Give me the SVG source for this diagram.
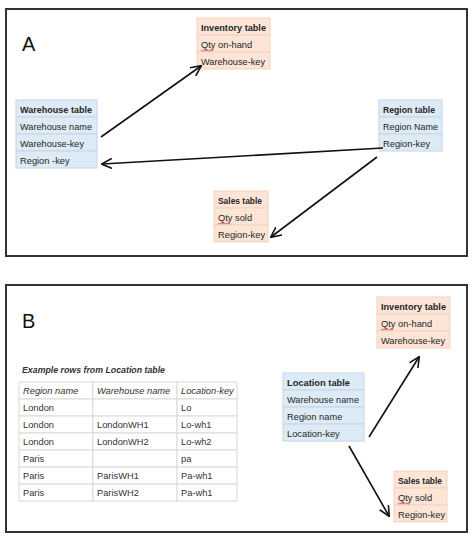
<svg xmlns="http://www.w3.org/2000/svg" width="474" height="537" viewBox="0 0 474 537">
<style>
.panel{fill:#fff;stroke:#333;stroke-width:2}
.o{fill:#fce4d6;stroke:#f3d3bf;stroke-width:1}
.b{fill:#ddebf7;stroke:#c3d6ea;stroke-width:1}
.t{font-family:"Liberation Sans",Arial,sans-serif;font-size:9.3px;fill:#262626}
.h{font-weight:bold}
.big{font-family:"Liberation Sans",Arial,sans-serif;font-size:20px;fill:#111}
.cell{fill:#fff;stroke:#d9d9d9;stroke-width:1}
.c{font-family:"Liberation Sans",Arial,sans-serif;font-size:9.3px;fill:#333}
.i{font-style:italic}
.arr{stroke:#111;stroke-width:1.6;fill:none;marker-end:url(#ah)}
.sq{stroke:#e02020;stroke-width:0.7;fill:none}
</style>
<defs>
<marker id="ah" viewBox="0 0 10 10" refX="9" refY="5" markerWidth="7" markerHeight="7" orient="auto" markerUnits="strokeWidth">
<path d="M0,0.5 L9.5,5 L0,9.5" fill="none" stroke="#111" stroke-width="1.4"/>
</marker>
</defs>
<rect width="474" height="537" fill="#fff"/>
<rect id="panelA" class="panel" x="6" y="9" width="461" height="247"/>
<rect id="panelB" class="panel" x="6" y="285" width="461" height="247"/>
<text class="big" x="22" y="51">A</text>
<text class="big" x="22" y="328">B</text>

<g id="inventoryA">
<rect class="o" x="197" y="18" width="73" height="17"/>
<rect class="o" x="197" y="35" width="73" height="17"/>
<rect class="o" x="197" y="52" width="73" height="17"/>
<text class="t h" x="201" y="30.5" textLength="65" lengthAdjust="spacingAndGlyphs">Inventory table</text>
<text class="t" x="201" y="47.5">Qty on-hand</text>
<path class="sq" d="M201,50 l1.5,1 l1.5,-1 l1.5,1 l1.5,-1 l1.5,1 l1.5,-1 l1.5,1 l1.5,-1"/>
<text class="t" x="201" y="64.5" textLength="64" lengthAdjust="spacingAndGlyphs">Warehouse-key</text>
</g>

<g id="warehouse">
<rect class="b" x="16" y="100" width="81" height="17"/>
<rect class="b" x="16" y="117" width="81" height="17"/>
<rect class="b" x="16" y="134" width="81" height="17"/>
<rect class="b" x="16" y="151" width="81" height="17"/>
<text class="t h" x="20" y="112.5" textLength="72" lengthAdjust="spacingAndGlyphs">Warehouse table</text>
<text class="t" x="20" y="129.5" textLength="72" lengthAdjust="spacingAndGlyphs">Warehouse name</text>
<text class="t" x="20" y="146.5" textLength="64" lengthAdjust="spacingAndGlyphs">Warehouse-key</text>
<text class="t" x="20" y="163.5">Region -key</text>
</g>

<g id="region">
<rect class="b" x="379" y="100" width="63" height="17"/>
<rect class="b" x="379" y="117" width="63" height="17"/>
<rect class="b" x="379" y="134" width="63" height="17"/>
<text class="t h" x="383" y="112.5" textLength="52" lengthAdjust="spacingAndGlyphs">Region table</text>
<text class="t" x="383" y="129.5" textLength="55" lengthAdjust="spacingAndGlyphs">Region Name</text>
<text class="t" x="383" y="146.5">Region-key</text>
</g>

<g id="salesA">
<rect class="o" x="214" y="191" width="54" height="17"/>
<rect class="o" x="214" y="208" width="54" height="17"/>
<rect class="o" x="214" y="225" width="54" height="17"/>
<text class="t h" x="218" y="203.5" textLength="44" lengthAdjust="spacingAndGlyphs">Sales table</text>
<text class="t" x="218" y="220.5">Qty sold</text>
<path class="sq" d="M218,223 l1.5,1 l1.5,-1 l1.5,1 l1.5,-1 l1.5,1 l1.5,-1 l1.5,1 l1.5,-1"/>
<text class="t" x="218" y="237.5">Region-key</text>
</g>

<g id="inventoryB">
<rect class="o" x="377" y="297" width="73" height="17"/>
<rect class="o" x="377" y="314" width="73" height="17"/>
<rect class="o" x="377" y="331" width="73" height="17"/>
<text class="t h" x="381" y="309.5" textLength="65" lengthAdjust="spacingAndGlyphs">Inventory table</text>
<text class="t" x="381" y="326.5">Qty on-hand</text>
<path class="sq" d="M381,329 l1.5,1 l1.5,-1 l1.5,1 l1.5,-1 l1.5,1 l1.5,-1 l1.5,1 l1.5,-1"/>
<text class="t" x="381" y="343.5" textLength="64" lengthAdjust="spacingAndGlyphs">Warehouse-key</text>
</g>

<g id="location">
<rect class="b" x="283" y="373" width="81" height="17"/>
<rect class="b" x="283" y="390" width="81" height="17"/>
<rect class="b" x="283" y="407" width="81" height="17"/>
<rect class="b" x="283" y="424" width="81" height="17"/>
<text class="t h" x="287" y="385.5" textLength="63" lengthAdjust="spacingAndGlyphs">Location table</text>
<text class="t" x="287" y="402.5" textLength="72" lengthAdjust="spacingAndGlyphs">Warehouse name</text>
<text class="t" x="287" y="419.5">Region name</text>
<text class="t" x="287" y="436.5">Location-key</text>
</g>

<g id="salesB">
<rect class="o" x="394" y="471" width="53" height="17"/>
<rect class="o" x="394" y="488" width="53" height="17"/>
<rect class="o" x="394" y="505" width="53" height="17"/>
<text class="t h" x="398" y="483.5" textLength="44" lengthAdjust="spacingAndGlyphs">Sales table</text>
<text class="t" x="398" y="500.5">Qty sold</text>
<path class="sq" d="M398,503 l1.5,1 l1.5,-1 l1.5,1 l1.5,-1 l1.5,1 l1.5,-1 l1.5,1 l1.5,-1"/>
<text class="t" x="398" y="517.5">Region-key</text>
</g>

<g id="exampleTable">
<text class="c h i" x="22" y="373" textLength="143" lengthAdjust="spacingAndGlyphs">Example rows from Location table</text>
<g>
<rect class="cell" x="19" y="382" width="74" height="17"/><rect class="cell" x="93" y="382" width="84" height="17"/><rect class="cell" x="177" y="382" width="60" height="17"/>
<rect class="cell" x="19" y="399" width="74" height="17"/><rect class="cell" x="93" y="399" width="84" height="17"/><rect class="cell" x="177" y="399" width="60" height="17"/>
<rect class="cell" x="19" y="416" width="74" height="17"/><rect class="cell" x="93" y="416" width="84" height="17"/><rect class="cell" x="177" y="416" width="60" height="17"/>
<rect class="cell" x="19" y="433" width="74" height="17"/><rect class="cell" x="93" y="433" width="84" height="17"/><rect class="cell" x="177" y="433" width="60" height="17"/>
<rect class="cell" x="19" y="450" width="74" height="17"/><rect class="cell" x="93" y="450" width="84" height="17"/><rect class="cell" x="177" y="450" width="60" height="17"/>
<rect class="cell" x="19" y="467" width="74" height="17"/><rect class="cell" x="93" y="467" width="84" height="17"/><rect class="cell" x="177" y="467" width="60" height="17"/>
<rect class="cell" x="19" y="484" width="74" height="17"/><rect class="cell" x="93" y="484" width="84" height="17"/><rect class="cell" x="177" y="484" width="60" height="17"/>
</g>
<text class="c i" x="23" y="394">Region name</text><text class="c i" x="97" y="394">Warehouse name</text><text class="c i" x="181" y="394">Location-key</text>
<text class="c" x="23" y="411">London</text><text class="c" x="181" y="411">Lo</text>
<text class="c" x="23" y="428">London</text><text class="c" x="97" y="428">LondonWH1</text><text class="c" x="181" y="428">Lo-wh1</text>
<text class="c" x="23" y="445">London</text><text class="c" x="97" y="445">LondonWH2</text><text class="c" x="181" y="445">Lo-wh2</text>
<text class="c" x="23" y="462">Paris</text><text class="c" x="181" y="462">pa</text>
<text class="c" x="23" y="479">Paris</text><text class="c" x="97" y="479">ParisWH1</text><text class="c" x="181" y="479">Pa-wh1</text>
<text class="c" x="23" y="496">Paris</text><text class="c" x="97" y="496">ParisWH2</text><text class="c" x="181" y="496">Pa-wh1</text>
</g>

<g id="connectors">
<line class="arr" x1="101" y1="137" x2="201" y2="66"/>
<line class="arr" x1="383" y1="148" x2="102" y2="164"/>
<line class="arr" x1="377" y1="157" x2="271" y2="237"/>
<line class="arr" x1="369" y1="437" x2="419" y2="357"/>
<line class="arr" x1="349" y1="446" x2="389" y2="516"/>
</g>
</svg>
